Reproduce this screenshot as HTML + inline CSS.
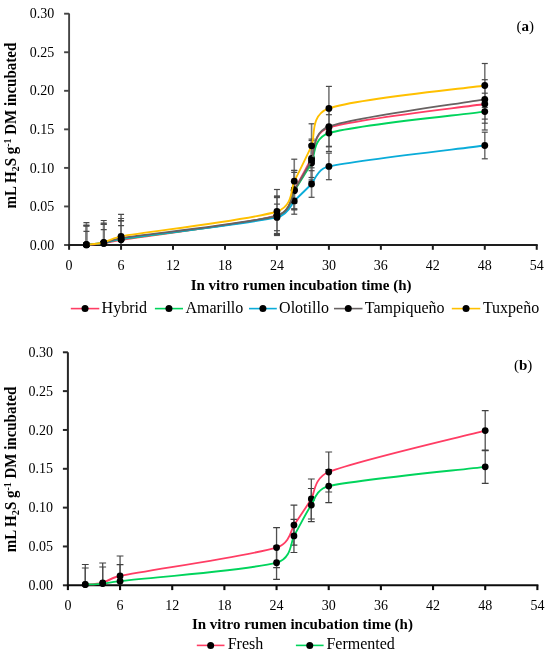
<!DOCTYPE html>
<html><head><meta charset="utf-8"><title>H2S incubation chart</title>
<style>html,body{margin:0;padding:0;background:#fff;}body{width:550px;height:656px;overflow:hidden;}svg{display:block;}</style>
</head><body>
<svg width="550" height="656" viewBox="0 0 550 656" font-family="'Liberation Serif', 'DejaVu Serif', serif">
<rect width="550" height="656" fill="#fff"/>
<clipPath id="ca"><rect x="69.1" y="-6.6" width="497.6" height="251.6"/></clipPath>
<g stroke="#787878" stroke-width="1.60" clip-path="url(#ca)"><line x1="86.42" y1="225.60" x2="86.42" y2="245.00"/><line x1="103.74" y1="224.20" x2="103.74" y2="245.00"/><line x1="121.06" y1="220.60" x2="121.06" y2="245.00"/><line x1="276.94" y1="196.30" x2="276.94" y2="234.70"/><line x1="294.26" y1="170.40" x2="294.26" y2="208.80"/><line x1="311.58" y1="139.10" x2="311.58" y2="177.50"/><line x1="328.90" y1="108.40" x2="328.90" y2="146.80"/><line x1="484.78" y1="84.80" x2="484.78" y2="123.20"/><line x1="86.42" y1="226.20" x2="86.42" y2="245.00"/><line x1="103.74" y1="224.40" x2="103.74" y2="245.00"/><line x1="121.06" y1="220.80" x2="121.06" y2="245.00"/><line x1="276.94" y1="197.60" x2="276.94" y2="234.40"/><line x1="294.26" y1="172.40" x2="294.26" y2="209.20"/><line x1="311.58" y1="144.60" x2="311.58" y2="181.40"/><line x1="328.90" y1="114.70" x2="328.90" y2="151.50"/><line x1="484.78" y1="93.20" x2="484.78" y2="130.00"/><line x1="86.42" y1="231.40" x2="86.42" y2="245.00"/><line x1="103.74" y1="229.70" x2="103.74" y2="245.00"/><line x1="121.06" y1="225.60" x2="121.06" y2="245.00"/><line x1="276.94" y1="204.10" x2="276.94" y2="230.70"/><line x1="294.26" y1="187.60" x2="294.26" y2="214.20"/><line x1="311.58" y1="170.70" x2="311.58" y2="197.30"/><line x1="328.90" y1="153.10" x2="328.90" y2="179.70"/><line x1="484.78" y1="132.20" x2="484.78" y2="158.80"/><line x1="86.42" y1="225.20" x2="86.42" y2="245.00"/><line x1="103.74" y1="223.20" x2="103.74" y2="245.00"/><line x1="121.06" y1="218.50" x2="121.06" y2="245.00"/><line x1="276.94" y1="196.10" x2="276.94" y2="235.50"/><line x1="294.26" y1="170.50" x2="294.26" y2="209.90"/><line x1="311.58" y1="140.50" x2="311.58" y2="179.90"/><line x1="328.90" y1="106.90" x2="328.90" y2="146.30"/><line x1="484.78" y1="79.70" x2="484.78" y2="119.10"/><line x1="86.42" y1="222.60" x2="86.42" y2="245.00"/><line x1="103.74" y1="220.50" x2="103.74" y2="245.00"/><line x1="121.06" y1="214.30" x2="121.06" y2="245.00"/><line x1="276.94" y1="189.50" x2="276.94" y2="233.50"/><line x1="294.26" y1="159.20" x2="294.26" y2="203.20"/><line x1="311.58" y1="123.80" x2="311.58" y2="167.80"/><line x1="328.90" y1="86.40" x2="328.90" y2="130.40"/><line x1="484.78" y1="63.50" x2="484.78" y2="107.50"/></g>
<g stroke="#4a4a4a" stroke-width="1.20" clip-path="url(#ca)"><line x1="83.42" y1="225.60" x2="89.42" y2="225.60"/><line x1="100.74" y1="224.20" x2="106.74" y2="224.20"/><line x1="118.06" y1="220.60" x2="124.06" y2="220.60"/><line x1="273.94" y1="196.30" x2="279.94" y2="196.30"/><line x1="273.94" y1="234.70" x2="279.94" y2="234.70"/><line x1="291.26" y1="170.40" x2="297.26" y2="170.40"/><line x1="291.26" y1="208.80" x2="297.26" y2="208.80"/><line x1="308.58" y1="139.10" x2="314.58" y2="139.10"/><line x1="308.58" y1="177.50" x2="314.58" y2="177.50"/><line x1="325.90" y1="108.40" x2="331.90" y2="108.40"/><line x1="325.90" y1="146.80" x2="331.90" y2="146.80"/><line x1="481.78" y1="84.80" x2="487.78" y2="84.80"/><line x1="481.78" y1="123.20" x2="487.78" y2="123.20"/><line x1="83.42" y1="226.20" x2="89.42" y2="226.20"/><line x1="100.74" y1="224.40" x2="106.74" y2="224.40"/><line x1="118.06" y1="220.80" x2="124.06" y2="220.80"/><line x1="273.94" y1="197.60" x2="279.94" y2="197.60"/><line x1="273.94" y1="234.40" x2="279.94" y2="234.40"/><line x1="291.26" y1="172.40" x2="297.26" y2="172.40"/><line x1="291.26" y1="209.20" x2="297.26" y2="209.20"/><line x1="308.58" y1="144.60" x2="314.58" y2="144.60"/><line x1="308.58" y1="181.40" x2="314.58" y2="181.40"/><line x1="325.90" y1="114.70" x2="331.90" y2="114.70"/><line x1="325.90" y1="151.50" x2="331.90" y2="151.50"/><line x1="481.78" y1="93.20" x2="487.78" y2="93.20"/><line x1="481.78" y1="130.00" x2="487.78" y2="130.00"/><line x1="83.42" y1="231.40" x2="89.42" y2="231.40"/><line x1="100.74" y1="229.70" x2="106.74" y2="229.70"/><line x1="118.06" y1="225.60" x2="124.06" y2="225.60"/><line x1="273.94" y1="204.10" x2="279.94" y2="204.10"/><line x1="273.94" y1="230.70" x2="279.94" y2="230.70"/><line x1="291.26" y1="187.60" x2="297.26" y2="187.60"/><line x1="291.26" y1="214.20" x2="297.26" y2="214.20"/><line x1="308.58" y1="170.70" x2="314.58" y2="170.70"/><line x1="308.58" y1="197.30" x2="314.58" y2="197.30"/><line x1="325.90" y1="153.10" x2="331.90" y2="153.10"/><line x1="325.90" y1="179.70" x2="331.90" y2="179.70"/><line x1="481.78" y1="132.20" x2="487.78" y2="132.20"/><line x1="481.78" y1="158.80" x2="487.78" y2="158.80"/><line x1="83.42" y1="225.20" x2="89.42" y2="225.20"/><line x1="100.74" y1="223.20" x2="106.74" y2="223.20"/><line x1="118.06" y1="218.50" x2="124.06" y2="218.50"/><line x1="273.94" y1="196.10" x2="279.94" y2="196.10"/><line x1="273.94" y1="235.50" x2="279.94" y2="235.50"/><line x1="291.26" y1="170.50" x2="297.26" y2="170.50"/><line x1="291.26" y1="209.90" x2="297.26" y2="209.90"/><line x1="308.58" y1="140.50" x2="314.58" y2="140.50"/><line x1="308.58" y1="179.90" x2="314.58" y2="179.90"/><line x1="325.90" y1="106.90" x2="331.90" y2="106.90"/><line x1="325.90" y1="146.30" x2="331.90" y2="146.30"/><line x1="481.78" y1="79.70" x2="487.78" y2="79.70"/><line x1="481.78" y1="119.10" x2="487.78" y2="119.10"/><line x1="83.42" y1="222.60" x2="89.42" y2="222.60"/><line x1="100.74" y1="220.50" x2="106.74" y2="220.50"/><line x1="118.06" y1="214.30" x2="124.06" y2="214.30"/><line x1="273.94" y1="189.50" x2="279.94" y2="189.50"/><line x1="273.94" y1="233.50" x2="279.94" y2="233.50"/><line x1="291.26" y1="159.20" x2="297.26" y2="159.20"/><line x1="291.26" y1="203.20" x2="297.26" y2="203.20"/><line x1="308.58" y1="123.80" x2="314.58" y2="123.80"/><line x1="308.58" y1="167.80" x2="314.58" y2="167.80"/><line x1="325.90" y1="86.40" x2="331.90" y2="86.40"/><line x1="325.90" y1="130.40" x2="331.90" y2="130.40"/><line x1="481.78" y1="63.50" x2="487.78" y2="63.50"/><line x1="481.78" y1="107.50" x2="487.78" y2="107.50"/></g>
<g stroke="#444" stroke-width="1.90"><line x1="69.10" y1="13.40" x2="69.10" y2="246.00"/><line x1="64.10" y1="245.00" x2="69.10" y2="245.00"/><line x1="64.10" y1="206.45" x2="69.10" y2="206.45"/><line x1="64.10" y1="167.90" x2="69.10" y2="167.90"/><line x1="64.10" y1="129.35" x2="69.10" y2="129.35"/><line x1="64.10" y1="90.80" x2="69.10" y2="90.80"/><line x1="64.10" y1="52.25" x2="69.10" y2="52.25"/><line x1="64.10" y1="13.70" x2="69.10" y2="13.70"/></g>
<g stroke="#1e1e1e" stroke-width="2.00"><line x1="68.10" y1="245.00" x2="537.74" y2="245.00"/><line x1="69.10" y1="245.00" x2="69.10" y2="249.80"/><line x1="121.06" y1="245.00" x2="121.06" y2="249.80"/><line x1="173.02" y1="245.00" x2="173.02" y2="249.80"/><line x1="224.98" y1="245.00" x2="224.98" y2="249.80"/><line x1="276.94" y1="245.00" x2="276.94" y2="249.80"/><line x1="328.90" y1="245.00" x2="328.90" y2="249.80"/><line x1="380.86" y1="245.00" x2="380.86" y2="249.80"/><line x1="432.82" y1="245.00" x2="432.82" y2="249.80"/><line x1="484.78" y1="245.00" x2="484.78" y2="249.80"/><line x1="536.74" y1="245.00" x2="536.74" y2="249.80"/></g>
<path d="M86.42,244.80 C89.31,244.57 97.97,244.23 103.74,243.40 C105.49,243.15 112.33,241.21 121.06,239.80 C149.93,235.15 248.07,223.87 276.94,215.50 C291.90,211.16 291.27,194.54 294.26,189.60 C300.03,180.07 305.81,168.63 311.58,158.30 C314.94,152.28 312.08,132.87 328.90,127.60 C357.77,118.55 458.80,107.93 484.78,104.00" fill="none" stroke="#ff3d64" stroke-width="1.85"/>
<g fill="#000"><circle cx="86.42" cy="244.80" r="3.4"/><circle cx="103.74" cy="243.40" r="3.4"/><circle cx="121.06" cy="239.80" r="3.4"/><circle cx="276.94" cy="215.50" r="3.4"/><circle cx="294.26" cy="189.60" r="3.4"/><circle cx="311.58" cy="158.30" r="3.4"/><circle cx="328.90" cy="127.60" r="3.4"/><circle cx="484.78" cy="104.00" r="3.4"/></g>
<path d="M86.42,244.60 C89.31,244.30 97.97,243.70 103.74,242.80 C105.49,242.53 112.32,240.55 121.06,239.20 C149.93,234.73 248.07,224.07 276.94,216.00 C291.66,211.89 291.32,195.31 294.26,190.80 C300.03,181.97 305.81,172.62 311.58,163.00 C314.89,157.48 312.34,138.02 328.90,133.10 C357.77,124.53 458.80,115.18 484.78,111.60" fill="none" stroke="#00d45c" stroke-width="1.85"/>
<g fill="#000"><circle cx="86.42" cy="244.60" r="3.4"/><circle cx="103.74" cy="242.80" r="3.4"/><circle cx="121.06" cy="239.20" r="3.4"/><circle cx="276.94" cy="216.00" r="3.4"/><circle cx="294.26" cy="190.80" r="3.4"/><circle cx="311.58" cy="163.00" r="3.4"/><circle cx="328.90" cy="133.10" r="3.4"/><circle cx="484.78" cy="111.60" r="3.4"/></g>
<path d="M86.42,244.70 C89.31,244.42 97.97,243.97 103.74,243.00 C105.50,242.71 112.26,240.20 121.06,238.90 C149.93,234.63 248.07,223.73 276.94,217.40 C288.62,214.84 291.92,203.15 294.26,200.90 C300.03,195.33 305.81,189.75 311.58,184.00 C313.99,181.60 316.85,169.08 328.90,166.40 C357.77,159.98 458.80,148.98 484.78,145.50" fill="none" stroke="#0aacd9" stroke-width="1.85"/>
<g fill="#000"><circle cx="86.42" cy="244.70" r="3.4"/><circle cx="103.74" cy="243.00" r="3.4"/><circle cx="121.06" cy="238.90" r="3.4"/><circle cx="276.94" cy="217.40" r="3.4"/><circle cx="294.26" cy="200.90" r="3.4"/><circle cx="311.58" cy="184.00" r="3.4"/><circle cx="328.90" cy="166.40" r="3.4"/><circle cx="484.78" cy="145.50" r="3.4"/></g>
<path d="M86.42,244.90 C89.31,244.57 97.97,244.02 103.74,242.90 C105.51,242.56 112.19,239.59 121.06,238.20 C149.93,233.68 248.07,223.80 276.94,215.80 C291.83,211.67 291.28,194.98 294.26,190.20 C300.03,180.93 305.81,170.80 311.58,160.20 C315.15,153.65 311.07,132.86 328.90,126.60 C357.77,116.47 458.80,103.93 484.78,99.40" fill="none" stroke="#686262" stroke-width="1.85"/>
<g fill="#000"><circle cx="86.42" cy="244.90" r="3.4"/><circle cx="103.74" cy="242.90" r="3.4"/><circle cx="121.06" cy="238.20" r="3.4"/><circle cx="276.94" cy="215.80" r="3.4"/><circle cx="294.26" cy="190.20" r="3.4"/><circle cx="311.58" cy="160.20" r="3.4"/><circle cx="328.90" cy="126.60" r="3.4"/><circle cx="484.78" cy="99.40" r="3.4"/></g>
<path d="M86.42,244.60 C89.31,244.25 97.97,243.88 103.74,242.50 C105.55,242.07 112.01,237.92 121.06,236.30 C149.93,231.13 248.07,220.68 276.94,211.50 C293.57,206.21 290.93,187.51 294.26,181.20 C300.03,170.25 305.81,157.93 311.58,145.80 C315.47,137.62 309.44,115.18 328.90,108.40 C357.77,98.35 458.80,89.32 484.78,85.50" fill="none" stroke="#ffc000" stroke-width="1.85"/>
<g fill="#000"><circle cx="86.42" cy="244.60" r="3.4"/><circle cx="103.74" cy="242.50" r="3.4"/><circle cx="121.06" cy="236.30" r="3.4"/><circle cx="276.94" cy="211.50" r="3.4"/><circle cx="294.26" cy="181.20" r="3.4"/><circle cx="311.58" cy="145.80" r="3.4"/><circle cx="328.90" cy="108.40" r="3.4"/><circle cx="484.78" cy="85.50" r="3.4"/></g>
<g font-size="14" fill="#000"><text x="54.30" y="249.60" text-anchor="end">0.00</text><text x="54.30" y="211.05" text-anchor="end">0.05</text><text x="54.30" y="172.50" text-anchor="end">0.10</text><text x="54.30" y="133.95" text-anchor="end">0.15</text><text x="54.30" y="95.40" text-anchor="end">0.20</text><text x="54.30" y="56.85" text-anchor="end">0.25</text><text x="54.30" y="18.30" text-anchor="end">0.30</text><text x="69.10" y="269.80" text-anchor="middle">0</text><text x="121.06" y="269.80" text-anchor="middle">6</text><text x="173.02" y="269.80" text-anchor="middle">12</text><text x="224.98" y="269.80" text-anchor="middle">18</text><text x="276.94" y="269.80" text-anchor="middle">24</text><text x="328.90" y="269.80" text-anchor="middle">30</text><text x="380.86" y="269.80" text-anchor="middle">36</text><text x="432.82" y="269.80" text-anchor="middle">42</text><text x="484.78" y="269.80" text-anchor="middle">48</text><text x="536.74" y="269.80" text-anchor="middle">54</text></g>
<text x="301.12" y="290.00" text-anchor="middle" font-size="15" font-weight="bold">In vitro rumen incubation time (h)</text>
<text transform="translate(16.10,125.65) rotate(-90) scale(0.937,1)" text-anchor="middle" font-size="16" font-weight="bold">mL H<tspan font-size="11" dy="3.2">2</tspan><tspan dy="-3.2">S g</tspan><tspan font-size="10.5" dy="-5">-1</tspan><tspan dy="5"> DM incubated</tspan></text>
<text x="516.40" y="31.40" font-size="15">(<tspan font-weight="bold">a</tspan>)</text>
<line x1="70.80" y1="308.60" x2="99.30" y2="308.60" stroke="#ff3d64" stroke-width="1.6"/><circle cx="85.05" cy="308.60" r="3.5" fill="#000"/><text x="101.60" y="312.55" font-size="16">Hybrid</text><line x1="154.90" y1="308.60" x2="183.00" y2="308.60" stroke="#00d45c" stroke-width="1.6"/><circle cx="168.95" cy="308.60" r="3.5" fill="#000"/><text x="185.50" y="312.55" font-size="16">Amarillo</text><line x1="249.00" y1="308.60" x2="276.80" y2="308.60" stroke="#0aacd9" stroke-width="1.6"/><circle cx="262.90" cy="308.60" r="3.5" fill="#000"/><text x="279.10" y="312.55" font-size="16">Olotillo</text><line x1="334.00" y1="308.60" x2="362.50" y2="308.60" stroke="#686262" stroke-width="1.6"/><circle cx="348.25" cy="308.60" r="3.5" fill="#000"/><text x="364.80" y="312.55" font-size="16">Tampiqueño</text><line x1="451.80" y1="308.60" x2="480.30" y2="308.60" stroke="#ffc000" stroke-width="1.6"/><circle cx="466.05" cy="308.60" r="3.5" fill="#000"/><text x="482.90" y="312.55" font-size="16">Tuxpeño</text>
<clipPath id="cb"><rect x="67.9" y="332.3" width="499.5" height="253.0"/></clipPath>
<g stroke="#505050" stroke-width="1.30" clip-path="url(#cb)"><line x1="85.29" y1="564.50" x2="85.29" y2="585.30"/><line x1="102.68" y1="563.00" x2="102.68" y2="585.30"/><line x1="120.06" y1="556.00" x2="120.06" y2="585.30"/><line x1="276.56" y1="527.60" x2="276.56" y2="567.60"/><line x1="293.94" y1="505.10" x2="293.94" y2="545.10"/><line x1="311.33" y1="479.00" x2="311.33" y2="519.00"/><line x1="328.72" y1="452.00" x2="328.72" y2="492.00"/><line x1="485.21" y1="410.60" x2="485.21" y2="450.60"/><line x1="85.29" y1="568.00" x2="85.29" y2="585.30"/><line x1="102.68" y1="567.00" x2="102.68" y2="585.30"/><line x1="120.06" y1="564.60" x2="120.06" y2="585.30"/><line x1="276.56" y1="546.10" x2="276.56" y2="579.30"/><line x1="293.94" y1="519.30" x2="293.94" y2="552.50"/><line x1="311.33" y1="488.50" x2="311.33" y2="521.70"/><line x1="328.72" y1="469.50" x2="328.72" y2="502.70"/><line x1="485.21" y1="450.20" x2="485.21" y2="483.40"/></g>
<g stroke="#404040" stroke-width="1.20" clip-path="url(#cb)"><line x1="81.89" y1="564.50" x2="88.69" y2="564.50"/><line x1="99.28" y1="563.00" x2="106.08" y2="563.00"/><line x1="116.66" y1="556.00" x2="123.46" y2="556.00"/><line x1="273.16" y1="527.60" x2="279.96" y2="527.60"/><line x1="273.16" y1="567.60" x2="279.96" y2="567.60"/><line x1="290.54" y1="505.10" x2="297.34" y2="505.10"/><line x1="290.54" y1="545.10" x2="297.34" y2="545.10"/><line x1="307.93" y1="479.00" x2="314.73" y2="479.00"/><line x1="307.93" y1="519.00" x2="314.73" y2="519.00"/><line x1="325.32" y1="452.00" x2="332.12" y2="452.00"/><line x1="325.32" y1="492.00" x2="332.12" y2="492.00"/><line x1="481.81" y1="410.60" x2="488.61" y2="410.60"/><line x1="481.81" y1="450.60" x2="488.61" y2="450.60"/><line x1="81.89" y1="568.00" x2="88.69" y2="568.00"/><line x1="99.28" y1="567.00" x2="106.08" y2="567.00"/><line x1="116.66" y1="564.60" x2="123.46" y2="564.60"/><line x1="273.16" y1="546.10" x2="279.96" y2="546.10"/><line x1="273.16" y1="579.30" x2="279.96" y2="579.30"/><line x1="290.54" y1="519.30" x2="297.34" y2="519.30"/><line x1="290.54" y1="552.50" x2="297.34" y2="552.50"/><line x1="307.93" y1="488.50" x2="314.73" y2="488.50"/><line x1="307.93" y1="521.70" x2="314.73" y2="521.70"/><line x1="325.32" y1="469.50" x2="332.12" y2="469.50"/><line x1="325.32" y1="502.70" x2="332.12" y2="502.70"/><line x1="481.81" y1="450.20" x2="488.61" y2="450.20"/><line x1="481.81" y1="483.40" x2="488.61" y2="483.40"/></g>
<g stroke="#262626" stroke-width="2.00"><line x1="67.90" y1="352.30" x2="67.90" y2="586.30"/><line x1="62.90" y1="585.30" x2="67.90" y2="585.30"/><line x1="62.90" y1="546.46" x2="67.90" y2="546.46"/><line x1="62.90" y1="507.63" x2="67.90" y2="507.63"/><line x1="62.90" y1="468.79" x2="67.90" y2="468.79"/><line x1="62.90" y1="429.96" x2="67.90" y2="429.96"/><line x1="62.90" y1="391.12" x2="67.90" y2="391.12"/><line x1="62.90" y1="352.29" x2="67.90" y2="352.29"/></g>
<g stroke="#0c0c0c" stroke-width="2.10"><line x1="66.90" y1="585.30" x2="538.38" y2="585.30"/><line x1="67.90" y1="585.30" x2="67.90" y2="590.10"/><line x1="120.06" y1="585.30" x2="120.06" y2="590.10"/><line x1="172.23" y1="585.30" x2="172.23" y2="590.10"/><line x1="224.39" y1="585.30" x2="224.39" y2="590.10"/><line x1="276.56" y1="585.30" x2="276.56" y2="590.10"/><line x1="328.72" y1="585.30" x2="328.72" y2="590.10"/><line x1="380.88" y1="585.30" x2="380.88" y2="590.10"/><line x1="433.05" y1="585.30" x2="433.05" y2="590.10"/><line x1="485.21" y1="585.30" x2="485.21" y2="590.10"/><line x1="537.38" y1="585.30" x2="537.38" y2="590.10"/></g>
<path d="M85.29,584.50 C88.19,584.25 96.88,584.42 102.68,583.00 C104.51,582.55 110.88,577.87 120.06,576.00 C149.04,570.10 247.58,556.08 276.56,547.60 C290.20,543.61 291.21,528.91 293.94,525.10 C299.74,517.00 305.54,507.85 311.33,499.00 C314.32,494.44 313.78,477.88 328.72,472.00 C357.70,460.60 459.13,437.50 485.21,430.60" fill="none" stroke="#ff3d64" stroke-width="1.85"/>
<g fill="#000"><circle cx="85.29" cy="584.50" r="3.4"/><circle cx="102.68" cy="583.00" r="3.4"/><circle cx="120.06" cy="576.00" r="3.4"/><circle cx="276.56" cy="547.60" r="3.4"/><circle cx="293.94" cy="525.10" r="3.4"/><circle cx="311.33" cy="499.00" r="3.4"/><circle cx="328.72" cy="472.00" r="3.4"/><circle cx="485.21" cy="430.60" r="3.4"/></g>
<path d="M85.29,584.60 C88.19,584.43 96.88,584.17 102.68,583.60 C104.42,583.43 111.35,582.25 120.06,581.20 C149.04,577.72 247.58,570.25 276.56,562.70 C292.01,558.67 290.85,541.02 293.94,535.90 C299.74,526.30 305.54,513.40 311.33,505.10 C313.85,501.50 316.14,488.87 328.72,486.10 C357.70,479.72 459.13,470.02 485.21,466.80" fill="none" stroke="#00d45c" stroke-width="1.85"/>
<g fill="#000"><circle cx="85.29" cy="584.60" r="3.4"/><circle cx="102.68" cy="583.60" r="3.4"/><circle cx="120.06" cy="581.20" r="3.4"/><circle cx="276.56" cy="562.70" r="3.4"/><circle cx="293.94" cy="535.90" r="3.4"/><circle cx="311.33" cy="505.10" r="3.4"/><circle cx="328.72" cy="486.10" r="3.4"/><circle cx="485.21" cy="466.80" r="3.4"/></g>
<g font-size="14" fill="#000"><text x="53.10" y="589.90" text-anchor="end">0.00</text><text x="53.10" y="551.06" text-anchor="end">0.05</text><text x="53.10" y="512.23" text-anchor="end">0.10</text><text x="53.10" y="473.39" text-anchor="end">0.15</text><text x="53.10" y="434.56" text-anchor="end">0.20</text><text x="53.10" y="395.72" text-anchor="end">0.25</text><text x="53.10" y="356.89" text-anchor="end">0.30</text><text x="67.90" y="610.10" text-anchor="middle">0</text><text x="120.06" y="610.10" text-anchor="middle">6</text><text x="172.23" y="610.10" text-anchor="middle">12</text><text x="224.39" y="610.10" text-anchor="middle">18</text><text x="276.56" y="610.10" text-anchor="middle">24</text><text x="328.72" y="610.10" text-anchor="middle">30</text><text x="380.88" y="610.10" text-anchor="middle">36</text><text x="433.05" y="610.10" text-anchor="middle">42</text><text x="485.21" y="610.10" text-anchor="middle">48</text><text x="537.38" y="610.10" text-anchor="middle">54</text></g>
<text x="302.44" y="629.40" text-anchor="middle" font-size="15" font-weight="bold">In vitro rumen incubation time (h)</text>
<text transform="translate(15.90,469.45) rotate(-90) scale(0.937,1)" text-anchor="middle" font-size="16" font-weight="bold">mL H<tspan font-size="11" dy="3.2">2</tspan><tspan dy="-3.2">S g</tspan><tspan font-size="10.5" dy="-5">-1</tspan><tspan dy="5"> DM incubated</tspan></text>
<text x="514.00" y="369.50" font-size="15">(<tspan font-weight="bold">b</tspan>)</text>
<line x1="196.80" y1="645.40" x2="224.50" y2="645.40" stroke="#ff3d64" stroke-width="1.6"/><circle cx="210.65" cy="645.40" r="3.5" fill="#000"/><text x="227.70" y="649.35" font-size="16">Fresh</text><line x1="295.90" y1="645.40" x2="323.60" y2="645.40" stroke="#00d45c" stroke-width="1.6"/><circle cx="309.75" cy="645.40" r="3.5" fill="#000"/><text x="326.40" y="649.35" font-size="16">Fermented</text>
</svg>
</body></html>
